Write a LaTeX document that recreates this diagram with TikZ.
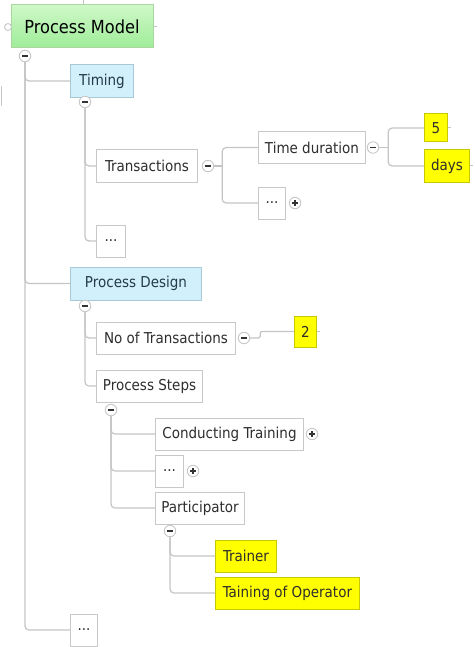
\documentclass[tikz,border=0pt]{standalone}
\usepackage{fontspec}
\setmainfont{DejaVu Sans Condensed}
\usetikzlibrary{calc}
\definecolor{linegray}{HTML}{C4C4C4}
\definecolor{boxgray}{HTML}{C8C8C8}
\definecolor{txt}{HTML}{2E2E2E}
\definecolor{bluetxt}{HTML}{243A48}
\definecolor{greenfillA}{HTML}{CFF8C8}
\definecolor{greenfillB}{HTML}{9EEC98}
\definecolor{greenborder}{HTML}{A8D8A0}
\definecolor{bluefill}{HTML}{D2F0FC}
\definecolor{blueborder}{HTML}{A8C8D6}
\definecolor{yel}{HTML}{FFFF00}
\definecolor{yelborder}{HTML}{C8C800}
\definecolor{signgray}{HTML}{333333}
\tikzset{
  box/.style={draw=boxgray, fill=white, line width=1pt, inner sep=0pt, minimum height=32pt, anchor=west, text=txt, font=\fontsize{15}{17}\selectfont},
  bluebox/.style={box, draw=blueborder, fill=bluefill, text=bluetxt, minimum height=33pt},
  yelbox/.style={box, draw=yelborder, fill=yel},
  rootbox/.style={draw=greenborder, top color=greenfillA, bottom color=greenfillB, line width=1pt, inner sep=0pt, minimum width=142pt, minimum height=43pt, text=black, font=\fontsize{18}{20}\selectfont},
  conn/.style={draw=linegray, line width=1.2pt, rounded corners=4pt},
  tog/.style={circle, draw=boxgray, fill=white, line width=0.9pt, minimum size=11.5pt, inner sep=0pt},
  minus/.style={tog, path picture={\draw[signgray, line width=1.3pt] ([xshift=-2.7pt]path picture bounding box.center) -- ([xshift=2.7pt]path picture bounding box.center);}},
  plus/.style={tog, path picture={\draw[signgray, line width=1.3pt] ([xshift=-2.7pt]path picture bounding box.center) -- ([xshift=2.7pt]path picture bounding box.center) ([yshift=-2.7pt]path picture bounding box.center) -- ([yshift=2.7pt]path picture bounding box.center);}},
}
\begin{document}
\begin{tikzpicture}[x=1pt, y=-1pt]
\useasboundingbox (0,0) rectangle (474,647);
% decorations around root
\coordinate (topstub) at (83,0);
\coordinate (leftstubA) at (1.5,86);
\coordinate (leftstubB) at (1.5,106);
% nodes
\node[rootbox] (pm) at (82,26.5) {Process Model};
\node[bluebox, minimum width=63pt] (timing) at (70,81) {Timing};
\node[box, minimum width=101pt] (trans) at (96,166) {Transactions};
\node[box, minimum width=29pt] (dots1) at (96,241) {...};
\node[box, minimum width=107pt] (timedur) at (258,147.5) {Time duration};
\node[box, minimum width=27pt] (dots2) at (258,203) {...};
\node[yelbox, minimum width=23pt, minimum height=28pt] (five) at (424,128) {5};
\node[yelbox, minimum width=45pt] (days) at (424,166) {days};
\node[bluebox, minimum width=131pt] (pd) at (70,283.5) {Process Design};
\node[box, minimum width=139pt] (not) at (96,338) {No of Transactions};
\node[yelbox, minimum width=22pt, minimum height=31pt] (two) at (294,331.5) {2};
\node[box, minimum width=106pt] (ps) at (96,386) {Process Steps};
\node[box, minimum width=148pt] (ct) at (155,434) {Conducting Training};
\node[box, minimum width=28pt] (dots3) at (155,471) {...};
\node[box, minimum width=89pt] (part) at (155,508) {Participator};
\node[yelbox, minimum width=61pt] (trainer) at (215,556) {Trainer};
\node[yelbox, minimum width=144pt] (tao) at (215,593) {Taining of Operator};
\node[box, minimum width=27pt] (dots4) at (70,630) {...};
% stubs
\draw[linegray, line width=1pt] (topstub) -- (pm.north -| topstub);
\draw[linegray, line width=1pt] (leftstubA) -- (leftstubB);
\draw[linegray, line width=1pt] (pm.east) -- ++(3,0);
\draw[linegray, line width=1pt] (five.east) -- ++(3,0);
\draw[linegray, line width=1pt] (days.east) -- ++(3,0);
\draw[linegray, line width=1pt] (two.east) -- ++(3,0);
\node[tog, minimum size=7pt] (pmleft) at (8,27) {};
% toggles
\node[minus] (cpm) at (25,56) {};
\node[minus] (ctiming) at (85,102) {};
\node[minus] (ctrans) at (208,166) {};
\node[minus] (ctd) at (373,147.5) {};
\node[plus] (cdots2) at (295,203) {};
\node[minus] (cpd) at (85,306) {};
\node[minus] (cnot) at (244,338) {};
\node[minus] (cps) at (111,410) {};
\node[plus] (cct) at (312,434) {};
\node[plus] (cdots3) at (193,471) {};
\node[minus] (cpart) at (170,531) {};
% connectors
\draw[conn] (cpm.south) |- (timing.west);
\draw[conn] (cpm.south) |- (pd.west);
\draw[conn] (cpm.south) |- (dots4.west);
\draw[conn] (ctiming.south) |- (trans.west);
\draw[conn] (ctiming.south) |- (dots1.west);
\coordinate (j1) at ($(ctrans.east)+(8,0)$);
\draw[conn] (ctrans.east) -- (j1);
\draw[conn] (j1) |- (timedur.west);
\draw[conn] (j1) |- (dots2.west);
\coordinate (j2) at ($(ctd.east)+(9,0)$);
\draw[conn] (ctd.east) -- (j2);
\draw[conn] (j2) |- (five.west);
\draw[conn] (j2) |- (days.west);
\coordinate (j3) at ($(cnot.east)+(10,0)$);
\draw[conn, rounded corners=2pt] (cnot.east) -- (j3) |- (two.west);
\draw[conn] (cpd.south) |- (not.west);
\draw[conn] (cpd.south) |- (ps.west);
\draw[conn] (cps.south) |- (ct.west);
\draw[conn] (cps.south) |- (dots3.west);
\draw[conn] (cps.south) |- (part.west);
\draw[conn] (cpart.south) |- (trainer.west);
\draw[conn] (cpart.south) |- (tao.west);
\end{tikzpicture}
\end{document}
